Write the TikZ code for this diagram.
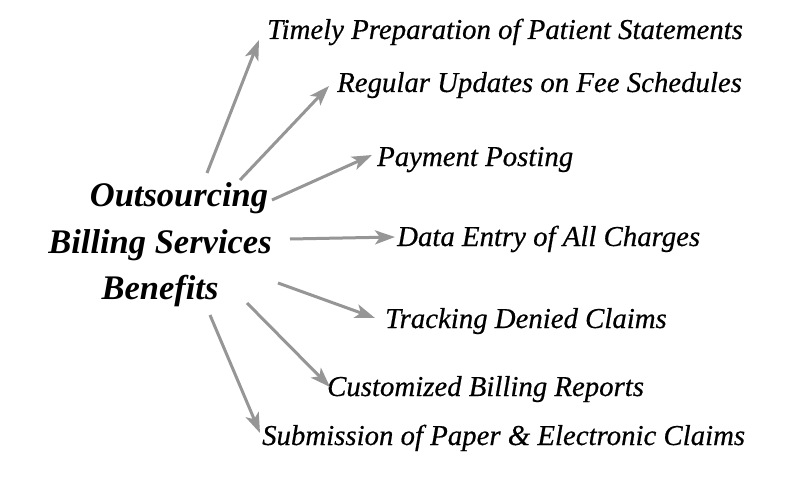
\documentclass[tikz,border=0pt]{standalone}
\usepackage{fontspec}
\setmainfont{Liberation Serif}
\newfontfamily\lblfont{Liberation Serif}[FakeBold=0.5]
\usetikzlibrary{arrows.meta}
\definecolor{arrgray}{RGB}{150,150,150}
\tikzset{
  lbl/.style={anchor=base west, inner sep=0pt, font=\lblfont\fontsize{28.8}{34}\selectfont\itshape},
  ctr/.style={anchor=base, inner sep=0pt, font=\fontsize{34.5}{47}\selectfont\bfseries\itshape},
  arr/.style={draw=arrgray, line width=3pt, -{Stealth[length=20pt,width=14pt,inset=5pt]}}
}
\begin{document}
\begin{tikzpicture}[x=1pt,y=-1pt]
\useasboundingbox[fill=white] (0,0) rectangle (800,492);
\node[ctr] (c1) at (179,206) {Outsourcing};
\node[ctr] (c2) at (160,253) {Billing Services};
\node[ctr] (c3) at (160,299) {Benefits};
\node[lbl] (t1) at (267,39) {Timely Preparation of Patient Statements};
\node[lbl] (t2) at (337,92) {Regular Updates on Fee Schedules};
\node[lbl] (t3) at (377,166) {Payment Posting};
\node[lbl] (t4) at (397,246) {Data Entry of All Charges};
\node[lbl] (t5) at (385,328) {Tracking Denied Claims};
\node[lbl] (t6) at (327,396) {Customized Billing Reports};
\node[lbl] (t7) at (262,445) {Submission of Paper \& Electronic Claims};
\coordinate (s1) at (207,173); \coordinate (e1) at (259,40);
\coordinate (s2) at (240,180); \coordinate (e2) at (329,86);
\coordinate (s3) at (272,200); \coordinate (e3) at (372,155);
\coordinate (s4) at (290,239); \coordinate (e4) at (395,237);
\coordinate (s5) at (278,283); \coordinate (e5) at (375,318);
\coordinate (s6) at (247,303); \coordinate (e6) at (330,387);
\coordinate (s7) at (210,315); \coordinate (e7) at (260,433);
\foreach \i in {1,...,7} { \draw[arr] (s\i) -- (e\i); }
\end{tikzpicture}
\end{document}
